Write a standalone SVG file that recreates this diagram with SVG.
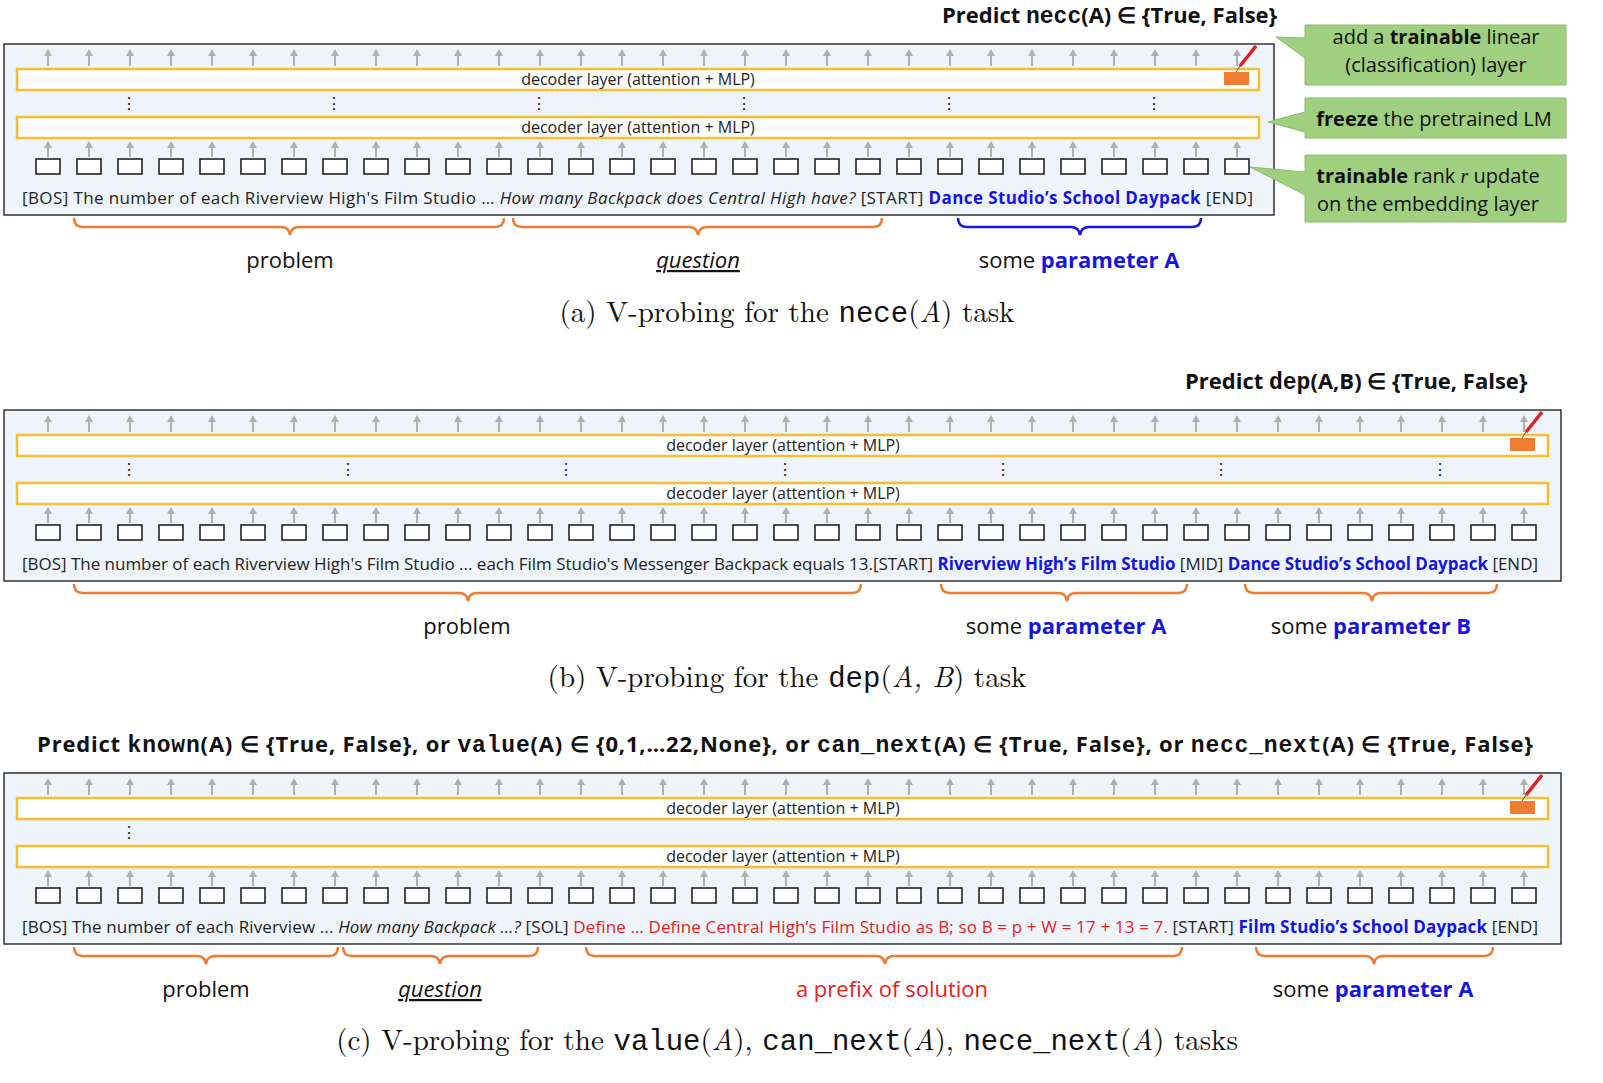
<svg xmlns="http://www.w3.org/2000/svg" xmlns:xlink="http://www.w3.org/1999/xlink" width="1603" height="1083" viewBox="0 0 1603 1083">
<style>
.panel{fill:#eef4fa;stroke:#333;stroke-width:1.5}
.layer{fill:#fff;stroke:#f5c030;stroke-width:2.5}
.lt{font-family:"Open Sans","Liberation Sans",sans-serif;font-size:16px;fill:#222;text-anchor:middle}
.tok{font-family:"Open Sans","Liberation Sans",sans-serif;font-size:17px;fill:#222}
.lab{font-family:"Open Sans","Liberation Sans",sans-serif;font-size:22px;fill:#111;text-anchor:middle}
.blue{fill:#1515e0;font-weight:bold}
.red{fill:#e82020}
.brace{fill:none;stroke:#ee7d31;stroke-width:2.5}
.bbrace{fill:none;stroke:#1515e0;stroke-width:2.5}
.cap{font-family:"Latin Modern Roman","Liberation Serif",serif;font-size:29px;fill:#111;text-anchor:middle}
.mono{font-family:"Liberation Mono",monospace}
.pred{font-family:"Open Sans","Liberation Sans",sans-serif;font-size:22px;font-weight:bold;fill:#111}
.call{fill:#9fcf7f;stroke:#8bbd6a;stroke-width:1}
.ct{font-family:"Open Sans","Liberation Sans",sans-serif;font-size:20px;fill:#111;text-anchor:middle}
.dots{font-family:"Liberation Sans",sans-serif;font-size:16px;fill:#222;text-anchor:middle}
.probe{fill:#ee7d31}
</style>
<defs>
<g id="col">
<line x1="0" y1="22" x2="0" y2="12" stroke="#b0b0b0" stroke-width="2"/>
<polygon points="-4,12 4,12 0,5" fill="#b0b0b0"/>
<line x1="0" y1="113" x2="0" y2="104" stroke="#b0b0b0" stroke-width="2"/>
<polygon points="-4,104 4,104 0,97" fill="#b0b0b0"/>
<rect x="-12" y="115" width="24" height="15" fill="#fff" stroke="#222" stroke-width="1.6"/>
</g>
<g id="probe">
<rect x="-12" y="0" width="25" height="13" class="probe"/>
<line x1="4" y1="-6" x2="20" y2="-26" stroke="#e02020" stroke-width="3.5"/>
<line x1="4" y1="-6" x2="0" y2="0" stroke="#555" stroke-width="1"/>
</g>
</defs>

<!-- Panel A -->
<g id="panelA">
<rect class="panel" x="4" y="44" width="1270" height="171"/>
<g id="colsA">
<use href="#col" x="48" y="44"/><use href="#col" x="89" y="44"/><use href="#col" x="130" y="44"/><use href="#col" x="171" y="44"/><use href="#col" x="212" y="44"/><use href="#col" x="253" y="44"/><use href="#col" x="294" y="44"/><use href="#col" x="335" y="44"/><use href="#col" x="376" y="44"/><use href="#col" x="417" y="44"/><use href="#col" x="458" y="44"/><use href="#col" x="499" y="44"/><use href="#col" x="540" y="44"/><use href="#col" x="581" y="44"/><use href="#col" x="622" y="44"/><use href="#col" x="663" y="44"/><use href="#col" x="704" y="44"/><use href="#col" x="745" y="44"/><use href="#col" x="786" y="44"/><use href="#col" x="827" y="44"/><use href="#col" x="868" y="44"/><use href="#col" x="909" y="44"/><use href="#col" x="950" y="44"/><use href="#col" x="991" y="44"/><use href="#col" x="1032" y="44"/><use href="#col" x="1073" y="44"/><use href="#col" x="1114" y="44"/><use href="#col" x="1155" y="44"/><use href="#col" x="1196" y="44"/><use href="#col" x="1237" y="44"/>
</g>
<rect class="layer" x="17" y="69" width="1242" height="21"/>
<text class="lt" x="638" y="85">decoder layer (attention + MLP)</text>
<rect class="layer" x="17" y="117" width="1242" height="21"/>
<text class="lt" x="638" y="133">decoder layer (attention + MLP)</text>
<g class="dots"><text x="129" y="109">⋮</text><text x="334" y="109">⋮</text><text x="539" y="109">⋮</text><text x="744" y="109">⋮</text><text x="949" y="109">⋮</text><text x="1154" y="109">⋮</text></g>
<use href="#probe" x="1236" y="72"/>
<text class="tok" x="22" y="204" textLength="1231" lengthAdjust="spacing">[BOS] The number of each Riverview High's Film Studio   …   <tspan font-style="italic">How many Backpack does Central High have?</tspan> [START] <tspan class="blue">Dance Studio’s School Daypack</tspan> [END]</text>
<text class="pred" x="942" y="23">Predict <tspan class="mono" font-size="23">necc</tspan>(A) ∈ {True, False}</text>
</g>
<g id="bracesA">
<path class="brace" d="M74,218 q0,9 9,9 H281 q8,0 9,8 q1,-8 9,-8 H495 q9,0 9,-9"/>
<path class="brace" d="M513,218 q0,9 9,9 H689 q8,0 9,8 q1,-8 9,-8 H873 q9,0 9,-9"/>
<path class="bbrace" d="M958,218 q0,9 9,9 H1071 q8,0 9,8 q1,-8 9,-8 H1192 q9,0 9,-9"/>
<text class="lab" x="290" y="268">problem</text>
<text class="lab" x="698" y="268" font-style="italic" text-decoration="underline">question</text>
<text class="lab" x="1079" y="268">some <tspan class="blue">parameter A</tspan></text>
<text class="cap" x="787" y="322">(a)  V-probing for the <tspan class="mono">nece</tspan>(<tspan font-style="italic">A</tspan>) task</text>
</g>
<g id="callouts">
<path class="call" d="M1305,25 H1566 V85 H1305 V58 L1276,37 L1305,38 Z"/>
<text class="ct" x="1436" y="44">add a <tspan font-weight="bold">trainable</tspan> linear</text>
<text class="ct" x="1436" y="72">(classification) layer</text>
<path class="call" d="M1305,98 H1566 V138 H1305 V132 L1268,122 L1305,112 Z"/>
<text class="ct" x="1434" y="126"><tspan font-weight="bold">freeze</tspan> the pretrained LM</text>
<path class="call" d="M1305,155 H1566 V222 H1305 V195 L1250,167 L1305,172 Z"/>
<text class="ct" x="1428" y="183"><tspan font-weight="bold">trainable</tspan> rank <tspan font-family="Liberation Serif,serif" font-style="italic">r</tspan> update</text>
<text class="ct" x="1428" y="211">on the embedding layer</text>
</g>

<!-- Panel B -->
<g id="panelB">
<rect class="panel" x="4" y="410" width="1557" height="171"/>
<g id="colsB">
<use href="#col" x="48" y="410"/><use href="#col" x="89" y="410"/><use href="#col" x="130" y="410"/><use href="#col" x="171" y="410"/><use href="#col" x="212" y="410"/><use href="#col" x="253" y="410"/><use href="#col" x="294" y="410"/><use href="#col" x="335" y="410"/><use href="#col" x="376" y="410"/><use href="#col" x="417" y="410"/><use href="#col" x="458" y="410"/><use href="#col" x="499" y="410"/><use href="#col" x="540" y="410"/><use href="#col" x="581" y="410"/><use href="#col" x="622" y="410"/><use href="#col" x="663" y="410"/><use href="#col" x="704" y="410"/><use href="#col" x="745" y="410"/><use href="#col" x="786" y="410"/><use href="#col" x="827" y="410"/><use href="#col" x="868" y="410"/><use href="#col" x="909" y="410"/><use href="#col" x="950" y="410"/><use href="#col" x="991" y="410"/><use href="#col" x="1032" y="410"/><use href="#col" x="1073" y="410"/><use href="#col" x="1114" y="410"/><use href="#col" x="1155" y="410"/><use href="#col" x="1196" y="410"/><use href="#col" x="1237" y="410"/><use href="#col" x="1278" y="410"/><use href="#col" x="1319" y="410"/><use href="#col" x="1360" y="410"/><use href="#col" x="1401" y="410"/><use href="#col" x="1442" y="410"/><use href="#col" x="1483" y="410"/><use href="#col" x="1524" y="410"/>
</g>
<rect class="layer" x="17" y="435" width="1531" height="21"/>
<text class="lt" x="783" y="451">decoder layer (attention + MLP)</text>
<rect class="layer" x="17" y="483" width="1531" height="21"/>
<text class="lt" x="783" y="499">decoder layer (attention + MLP)</text>
<g class="dots"><text x="129" y="475">⋮</text><text x="348" y="475">⋮</text><text x="566" y="475">⋮</text><text x="785" y="475">⋮</text><text x="1003" y="475">⋮</text><text x="1221" y="475">⋮</text><text x="1440" y="475">⋮</text></g>
<use href="#probe" x="1522" y="438"/>
<text class="tok" x="22" y="570" textLength="1516" lengthAdjust="spacingAndGlyphs">[BOS] The number of each Riverview High's Film Studio ... each Film Studio's Messenger Backpack equals 13.[START] <tspan class="blue">Riverview High’s Film Studio</tspan> [MID] <tspan class="blue">Dance Studio’s School Daypack</tspan> [END]</text>
<text class="pred" x="1185" y="389">Predict <tspan class="mono" font-size="23">dep</tspan>(A,B) ∈ {True, False}</text>
</g>
<g id="bracesB">
<path class="brace" d="M74,584 q0,9 9,9 H459 q8,0 9,8 q1,-8 9,-8 H852 q9,0 9,-9"/>
<path class="brace" d="M941,584 q0,9 9,9 H1058 q8,0 9,8 q1,-8 9,-8 H1178 q9,0 9,-9"/>
<path class="brace" d="M1245,584 q0,9 9,9 H1363 q8,0 9,8 q1,-8 9,-8 H1488 q9,0 9,-9"/>
<text class="lab" x="467" y="634">problem</text>
<text class="lab" x="1066" y="634">some <tspan class="blue">parameter A</tspan></text>
<text class="lab" x="1371" y="634">some <tspan class="blue">parameter B</tspan></text>
<text class="cap" x="787" y="687">(b)  V-probing for the <tspan class="mono">dep</tspan>(<tspan font-style="italic">A, B</tspan>) task</text>
</g>

<!-- Panel C -->
<g id="panelC">
<rect class="panel" x="4" y="773" width="1557" height="171"/>
<g id="colsC">
<use href="#col" x="48" y="773"/><use href="#col" x="89" y="773"/><use href="#col" x="130" y="773"/><use href="#col" x="171" y="773"/><use href="#col" x="212" y="773"/><use href="#col" x="253" y="773"/><use href="#col" x="294" y="773"/><use href="#col" x="335" y="773"/><use href="#col" x="376" y="773"/><use href="#col" x="417" y="773"/><use href="#col" x="458" y="773"/><use href="#col" x="499" y="773"/><use href="#col" x="540" y="773"/><use href="#col" x="581" y="773"/><use href="#col" x="622" y="773"/><use href="#col" x="663" y="773"/><use href="#col" x="704" y="773"/><use href="#col" x="745" y="773"/><use href="#col" x="786" y="773"/><use href="#col" x="827" y="773"/><use href="#col" x="868" y="773"/><use href="#col" x="909" y="773"/><use href="#col" x="950" y="773"/><use href="#col" x="991" y="773"/><use href="#col" x="1032" y="773"/><use href="#col" x="1073" y="773"/><use href="#col" x="1114" y="773"/><use href="#col" x="1155" y="773"/><use href="#col" x="1196" y="773"/><use href="#col" x="1237" y="773"/><use href="#col" x="1278" y="773"/><use href="#col" x="1319" y="773"/><use href="#col" x="1360" y="773"/><use href="#col" x="1401" y="773"/><use href="#col" x="1442" y="773"/><use href="#col" x="1483" y="773"/><use href="#col" x="1524" y="773"/>
</g>
<rect class="layer" x="17" y="798" width="1531" height="21"/>
<text class="lt" x="783" y="814">decoder layer (attention + MLP)</text>
<rect class="layer" x="17" y="846" width="1531" height="21"/>
<text class="lt" x="783" y="862">decoder layer (attention + MLP)</text>
<g class="dots"><text x="129" y="838">⋮</text></g>
<use href="#probe" x="1522" y="801"/>
<text class="tok" x="22" y="933" textLength="1516" lengthAdjust="spacing">[BOS] The number of each Riverview ... <tspan font-style="italic">How many Backpack …?</tspan> [SOL] <tspan class="red">Define … Define Central High’s Film Studio as B; so B = p + W = 17 + 13 = 7.</tspan> [START] <tspan class="blue">Film Studio’s School Daypack</tspan> [END]</text>
<text class="pred" x="37" y="752" textLength="1496" lengthAdjust="spacing">Predict <tspan class="mono" font-size="23">known</tspan>(A) ∈ {True, False},   or <tspan class="mono" font-size="23">value</tspan>(A) ∈ {0,1,…22,None},   or <tspan class="mono" font-size="23">can_next</tspan>(A) ∈ {True, False},    or <tspan class="mono" font-size="23">necc_next</tspan>(A) ∈ {True, False}</text>
</g>
<g id="bracesC">
<path class="brace" d="M74,947 q0,9 9,9 H197 q8,0 9,8 q1,-8 9,-8 H329 q9,0 9,-9"/>
<path class="brace" d="M343,947 q0,9 9,9 H431 q8,0 9,8 q1,-8 9,-8 H529 q9,0 9,-9"/>
<path class="brace" d="M586,947 q0,9 9,9 H876 q8,0 9,8 q1,-8 9,-8 H1173 q9,0 9,-9"/>
<path class="brace" d="M1256,947 q0,9 9,9 H1365 q8,0 9,8 q1,-8 9,-8 H1484 q9,0 9,-9"/>
<text class="lab" x="206" y="997">problem</text>
<text class="lab" x="440" y="997" font-style="italic" text-decoration="underline">question</text>
<text class="lab red" x="892" y="997">a prefix of solution</text>
<text class="lab" x="1373" y="997">some <tspan class="blue">parameter A</tspan></text>
<text class="cap" x="787" y="1050">(c)  V-probing for the <tspan class="mono">value</tspan>(<tspan font-style="italic">A</tspan>), <tspan class="mono">can_next</tspan>(<tspan font-style="italic">A</tspan>), <tspan class="mono">nece_next</tspan>(<tspan font-style="italic">A</tspan>) tasks</text>
</g>
</svg>
